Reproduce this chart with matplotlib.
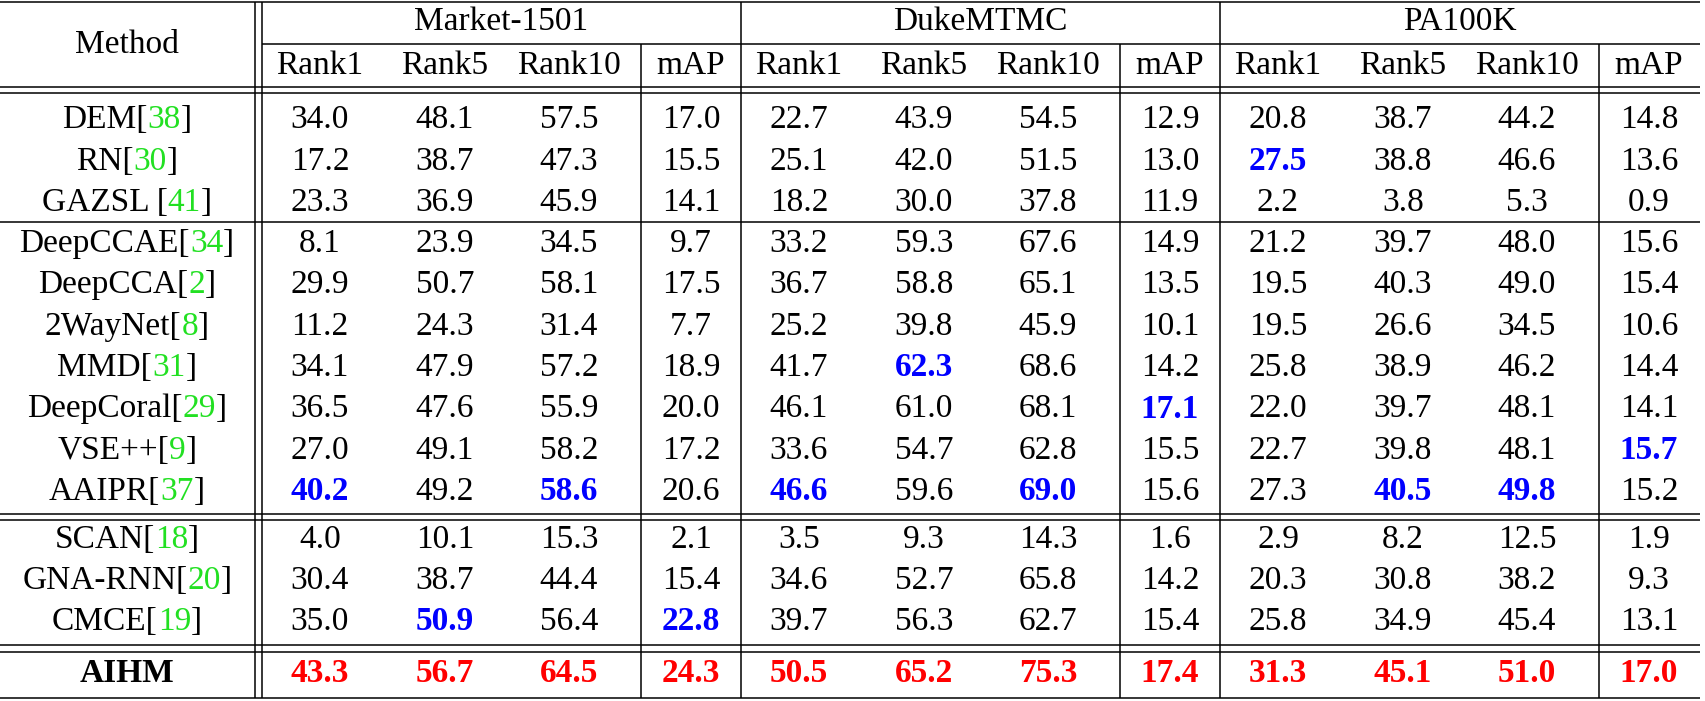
import matplotlib
matplotlib.use('Agg')
import matplotlib.pyplot as plt

plt.rcParams['font.family'] = ['Liberation Serif', 'DejaVu Serif']

groups = ['Market-1501', 'DukeMTMC', 'PA100K']
metrics = ['Rank1', 'Rank5', 'Rank10', 'mAP']

method_names = ['DEM', 'RN', 'GAZSL ', 'DeepCCAE', 'DeepCCA', '2WayNet', 'MMD', 'DeepCoral',
                'VSE++', 'AAIPR', 'SCAN', 'GNA-RNN', 'CMCE', 'AIHM']
method_refs = ['38', '30', '41', '34', '2', '8', '31', '29', '9', '37', '18', '20', '19', None]

values = [
    [34.0, 48.1, 57.5, 17.0, 22.7, 43.9, 54.5, 12.9, 20.8, 38.7, 44.2, 14.8],
    [17.2, 38.7, 47.3, 15.5, 25.1, 42.0, 51.5, 13.0, 27.5, 38.8, 46.6, 13.6],
    [23.3, 36.9, 45.9, 14.1, 18.2, 30.0, 37.8, 11.9, 2.2, 3.8, 5.3, 0.9],
    [8.1, 23.9, 34.5, 9.7, 33.2, 59.3, 67.6, 14.9, 21.2, 39.7, 48.0, 15.6],
    [29.9, 50.7, 58.1, 17.5, 36.7, 58.8, 65.1, 13.5, 19.5, 40.3, 49.0, 15.4],
    [11.2, 24.3, 31.4, 7.7, 25.2, 39.8, 45.9, 10.1, 19.5, 26.6, 34.5, 10.6],
    [34.1, 47.9, 57.2, 18.9, 41.7, 62.3, 68.6, 14.2, 25.8, 38.9, 46.2, 14.4],
    [36.5, 47.6, 55.9, 20.0, 46.1, 61.0, 68.1, 17.1, 22.0, 39.7, 48.1, 14.1],
    [27.0, 49.1, 58.2, 17.2, 33.6, 54.7, 62.8, 15.5, 22.7, 39.8, 48.1, 15.7],
    [40.2, 49.2, 58.6, 20.6, 46.6, 59.6, 69.0, 15.6, 27.3, 40.5, 49.8, 15.2],
    [4.0, 10.1, 15.3, 2.1, 3.5, 9.3, 14.3, 1.6, 2.9, 8.2, 12.5, 1.9],
    [30.4, 38.7, 44.4, 15.4, 34.6, 52.7, 65.8, 14.2, 20.3, 30.8, 38.2, 9.3],
    [35.0, 50.9, 56.4, 22.8, 39.7, 56.3, 62.7, 15.4, 25.8, 34.9, 45.4, 13.1],
    [43.3, 56.7, 64.5, 24.3, 50.5, 65.2, 75.3, 17.4, 31.3, 45.1, 51.0, 17.0],
]

# second best (blue) cells: (row, column)
blue_cells = [(9, 0), (9, 2), (12, 1), (12, 3),
              (6, 5), (7, 7), (9, 4), (9, 6),
              (1, 8), (8, 11), (9, 9), (9, 10)]

W, H = 1706, 701
fig = plt.figure(figsize=(W / 100, H / 100), dpi=100)
ax = fig.add_axes([0, 0, 1, 1])
ax.set_xlim(0, W)
ax.set_ylim(H, 0)
ax.axis('off')

fs = 24
green = '#22e022'
blue = '#0000ff'
red = '#ff0000'

# layout in pixels
div_x = (255, 262)
group_w = 479
col_off = [58, 183, 307, 429]      # column centres relative to group start
vline_off = 379
row_y = [120 + i * 41.3 for i in range(10)] + [540, 581, 622, 673]

lw = 1.1
def hline(y, x0=0, x1=1700):
    ax.plot([x0, x1], [y, y], color='black', lw=lw, solid_capstyle='butt')

def vline(x, y0, y1):
    ax.plot([x, x], [y0, y1], color='black', lw=lw, solid_capstyle='butt')

hline(2)
hline(44, div_x[1])
for y in (87, 93, 514, 520, 645, 652):
    hline(y)
hline(698)
for x in div_x:
    vline(x, 2, 698)
for g in range(3):
    gx = div_x[1] + g * group_w
    if g > 0:
        vline(gx, 2, 698)
    vline(gx + vline_off, 44, 698)
hline(222)

# header
ax.text(127, 45, 'Method', fontsize=fs, ha='center', va='center')
for g, name in enumerate(groups):
    gx = div_x[1] + g * group_w
    ax.text(gx + group_w / 2, 22, name, fontsize=fs, ha='center', va='center')
    for m, met in enumerate(metrics):
        ax.text(gx + col_off[m], 66, met, fontsize=fs, ha='center', va='center')

fig.canvas.draw()
renderer = fig.canvas.get_renderer()

def text_width(s, weight='normal'):
    t = ax.text(0, 0, s, fontsize=fs, fontweight=weight)
    w = t.get_window_extent(renderer).width
    t.remove()
    return w

for i, (name, ref) in enumerate(zip(method_names, method_refs)):
    y = row_y[i]
    if ref is None:
        ax.text(127, y, name, fontsize=fs, fontweight='bold', ha='center', va='center')
        continue
    parts = [(name + '[', 'black'), (ref, green), (']', 'black')]
    total = sum(text_width(p) for p, _ in parts)
    x = 127 - total / 2
    for p, c in parts:
        ax.text(x, y, p, fontsize=fs, color=c, ha='left', va='center')
        x += text_width(p)

for i, row in enumerate(values):
    y = row_y[i]
    for j, v in enumerate(row):
        g, m = divmod(j, 4)
        x = div_x[1] + g * group_w + col_off[m]
        color, weight = 'black', 'normal'
        if i == len(values) - 1:
            color, weight = red, 'bold'
        elif (i, j) in blue_cells:
            color, weight = blue, 'bold'
        ax.text(x, y, f'{v:.1f}', fontsize=fs, color=color, fontweight=weight,
                ha='center', va='center')

fig.savefig('out.png', dpi=100)
